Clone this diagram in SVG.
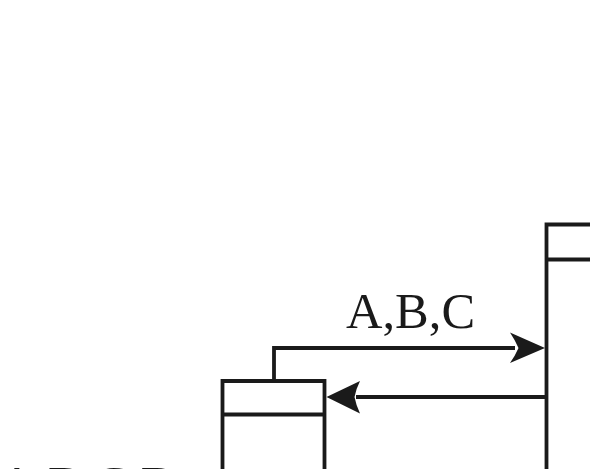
<svg xmlns="http://www.w3.org/2000/svg" width="590" height="469" viewBox="0 0 590 469">
<style>
.box{fill:none;stroke:#1a1a1a;stroke-width:3.8}
.edge{fill:none;stroke:#1a1a1a;stroke-width:3.8}
.head{fill:#1a1a1a;stroke:none}
.lbl{font-family:"Liberation Serif","Times New Roman",serif;font-size:50.5px;fill:#1a1a1a}
</style>
<rect width="590" height="469" fill="#ffffff"/>
<g id="node-right">
<path class="box" d="M600,224.5 H546.5 V480 M546.5,259.5 H600"/>
</g>
<g id="node-left">
<path class="box" d="M222.5,480 V381 H324.5 V480 M222.5,414.5 H324.5"/>
</g>
<g id="connectors">
<path class="edge" d="M274,381 V348 H515"/>
<path class="head" d="M545,348 L510,332.5 Q515,340 518.5,348 Q515,356 510,363 Z"/>
<path class="edge" d="M546.5,397 H356"/>
<path class="head" d="M326.5,397 L360,381 Q356,389 354.5,397 Q356,405 360,413.5 Z"/>
</g>
<text class="lbl" x="346" y="328">A,B,C</text>
<text class="lbl" x="-1" y="501">A,B,C,D</text>
</svg>
